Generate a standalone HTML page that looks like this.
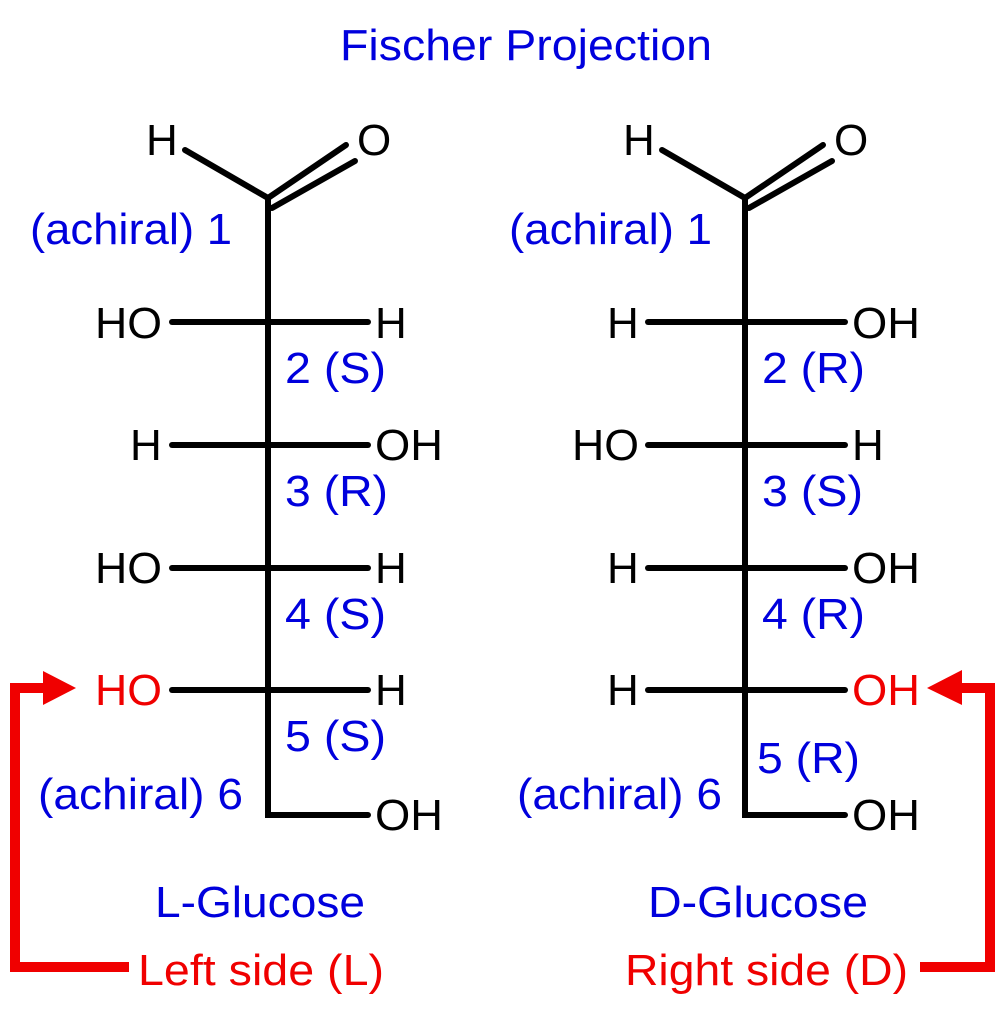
<!DOCTYPE html>
<html><head><meta charset="utf-8"><style>html,body{margin:0;padding:0;background:#fff}svg{display:block}</style></head>
<body>
<svg width="1001" height="1024" viewBox="0 0 1001 1024" xmlns="http://www.w3.org/2000/svg" font-family="Liberation Sans, Arial, sans-serif">
<g stroke="#000" stroke-width="6" fill="none" stroke-linecap="round">
<polyline points="268,198 268,815 368,815"/>
<line x1="185" y1="150" x2="268" y2="198"/>
<line x1="268" y1="198" x2="346" y2="145"/>
<line x1="272" y1="208" x2="355" y2="161"/>
<line x1="172" y1="322" x2="368" y2="322"/>
<line x1="172" y1="445" x2="368" y2="445"/>
<line x1="172" y1="568" x2="368" y2="568"/>
<line x1="172" y1="690" x2="368" y2="690"/>
<polyline points="745,198 745,815 845,815"/>
<line x1="662" y1="150" x2="745" y2="198"/>
<line x1="745" y1="198" x2="823" y2="145"/>
<line x1="749" y1="208" x2="832" y2="161"/>
<line x1="648" y1="322" x2="845" y2="322"/>
<line x1="648" y1="445" x2="845" y2="445"/>
<line x1="648" y1="568" x2="845" y2="568"/>
<line x1="648" y1="690" x2="845" y2="690"/>
</g>
<g fill="#f00000" stroke="none">
<rect x="10" y="683" width="10" height="289"/>
<rect x="10" y="962" width="119" height="10"/>
<rect x="10" y="683" width="40" height="10"/>
<polygon points="43,671 76,688 43,705"/>
<rect x="985" y="683" width="10" height="289"/>
<rect x="920" y="962" width="75" height="10"/>
<rect x="955" y="683" width="40" height="10"/>
<polygon points="962,670 927,688 962,705"/>
</g>
<g font-size="44" fill="#000">
<text x="146" y="155">H</text><text x="357" y="155">O</text>
<text x="623" y="155">H</text><text x="834" y="155">O</text>
<text x="95" y="338" textLength="67" lengthAdjust="spacingAndGlyphs">HO</text><text x="375" y="338">H</text>
<text x="130" y="460">H</text><text x="375" y="460" textLength="68" lengthAdjust="spacingAndGlyphs">OH</text>
<text x="95" y="583" textLength="67" lengthAdjust="spacingAndGlyphs">HO</text><text x="375" y="583">H</text>
<text x="375" y="705">H</text>
<text x="375" y="830" textLength="68" lengthAdjust="spacingAndGlyphs">OH</text>
<text x="607" y="338">H</text><text x="852" y="338" textLength="68" lengthAdjust="spacingAndGlyphs">OH</text>
<text x="572" y="460" textLength="67" lengthAdjust="spacingAndGlyphs">HO</text><text x="852" y="460">H</text>
<text x="607" y="583">H</text><text x="852" y="583" textLength="68" lengthAdjust="spacingAndGlyphs">OH</text>
<text x="607" y="705">H</text>
<text x="852" y="830" textLength="68" lengthAdjust="spacingAndGlyphs">OH</text>
</g>
<g font-size="44" fill="#f00000">
<text x="95" y="705" textLength="67" lengthAdjust="spacingAndGlyphs">HO</text>
<text x="852" y="705" textLength="68" lengthAdjust="spacingAndGlyphs">OH</text>
<text x="138" y="985" textLength="246" lengthAdjust="spacingAndGlyphs">Left side (L)</text>
<text x="625" y="985" textLength="283" lengthAdjust="spacingAndGlyphs">Right side (D)</text>
</g>
<g font-size="44" fill="#0000dd">
<text x="340" y="60" textLength="372" lengthAdjust="spacingAndGlyphs">Fischer Projection</text>
<text x="30" y="244" textLength="202" lengthAdjust="spacingAndGlyphs">(achiral) 1</text>
<text x="509" y="244" textLength="203" lengthAdjust="spacingAndGlyphs">(achiral) 1</text>
<text x="285" y="383" textLength="101" lengthAdjust="spacingAndGlyphs">2 (S)</text>
<text x="285" y="506" textLength="103" lengthAdjust="spacingAndGlyphs">3 (R)</text>
<text x="285" y="629" textLength="101" lengthAdjust="spacingAndGlyphs">4 (S)</text>
<text x="285" y="751" textLength="101" lengthAdjust="spacingAndGlyphs">5 (S)</text>
<text x="762" y="383" textLength="103" lengthAdjust="spacingAndGlyphs">2 (R)</text>
<text x="762" y="506" textLength="101" lengthAdjust="spacingAndGlyphs">3 (S)</text>
<text x="762" y="629" textLength="103" lengthAdjust="spacingAndGlyphs">4 (R)</text>
<text x="757" y="773" textLength="103" lengthAdjust="spacingAndGlyphs">5 (R)</text>
<text x="38" y="809" textLength="205" lengthAdjust="spacingAndGlyphs">(achiral) 6</text>
<text x="517" y="809" textLength="205" lengthAdjust="spacingAndGlyphs">(achiral) 6</text>
<text x="155" y="917" textLength="210" lengthAdjust="spacingAndGlyphs">L-Glucose</text>
<text x="648" y="917" textLength="220" lengthAdjust="spacingAndGlyphs">D-Glucose</text>
</g>
</svg>
</body></html>
